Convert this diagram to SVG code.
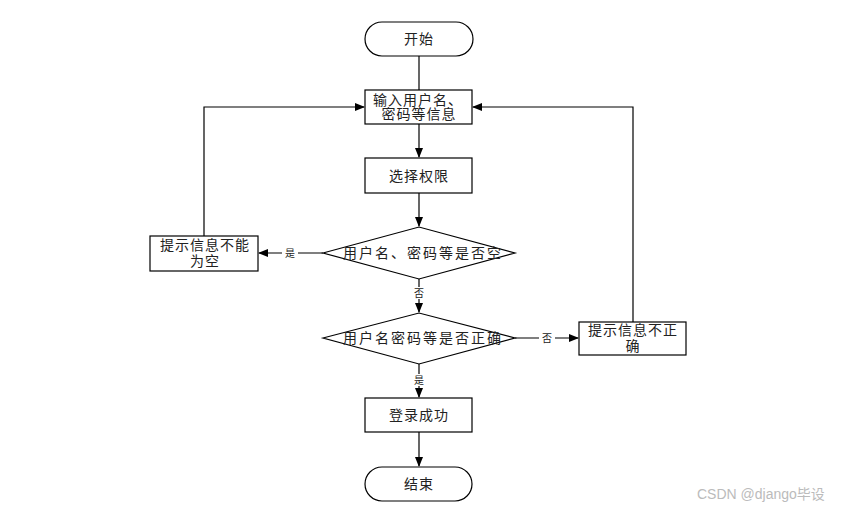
<svg xmlns="http://www.w3.org/2000/svg" width="841" height="510" viewBox="0 0 841 510">
<style>
.s{fill:#fff;stroke:#000;stroke-width:1.2}
.t{font-family:"Liberation Serif","Noto Sans CJK SC",serif;font-size:14px;letter-spacing:1px;fill:#222;text-anchor:middle}
.d{letter-spacing:2px}
.l{font-family:"Liberation Serif","Noto Sans CJK SC",serif;font-size:10px;fill:#222;text-anchor:middle}
.c{fill:none;stroke:#000;stroke-width:1.2}
.w{font-family:"Liberation Sans","Noto Sans CJK SC",sans-serif;font-size:14px;fill:#bbb}
</style>
<defs>
<marker id="a" markerWidth="10" markerHeight="8" refX="9" refY="4" orient="auto" markerUnits="userSpaceOnUse">
<path d="M0,0 L10,4 L0,8 Z" fill="#000"/>
</marker>
</defs>
<rect width="841" height="510" fill="#fff"/>
<g id="connectors">
<line class="c" x1="419" y1="56" x2="419" y2="90"/>
<line class="c" x1="419" y1="124" x2="419" y2="157" marker-end="url(#a)"/>
<line class="c" x1="419" y1="193" x2="419" y2="226" marker-end="url(#a)"/>
<line class="c" x1="323" y1="253" x2="259" y2="253" marker-end="url(#a)"/>
<path class="c" d="M204,236 V107 H364" marker-end="url(#a)"/>
<line class="c" x1="419" y1="279" x2="419" y2="312" marker-end="url(#a)"/>
<line class="c" x1="515" y1="338" x2="578" y2="338" marker-end="url(#a)"/>
<path class="c" d="M633,322 V107 H473" marker-end="url(#a)"/>
<line class="c" x1="419" y1="364" x2="419" y2="397" marker-end="url(#a)"/>
<line class="c" x1="419" y1="432" x2="419" y2="466" marker-end="url(#a)"/>
<rect x="282" y="247" width="16" height="12" fill="#fff"/>
<text class="l" x="290" y="257">是</text>
<rect x="411" y="287" width="16" height="12" fill="#fff"/>
<text class="l" x="419" y="297">否</text>
<rect x="539" y="332" width="16" height="12" fill="#fff"/>
<text class="l" x="547" y="342">否</text>
<rect x="411" y="374" width="16" height="12" fill="#fff"/>
<text class="l" x="419" y="384">是</text>
</g>
<g id="start">
<rect class="s" x="365" y="22" width="108" height="34" rx="17"/>
<text class="t" x="419" y="44">开始</text>
</g>
<g id="input">
<rect class="s" x="365" y="90" width="107" height="34"/>
<text class="t" x="418" y="105">输入用户名、</text>
<text class="t" x="419" y="119">密码等信息</text>
</g>
<g id="role">
<rect class="s" x="365" y="158" width="107" height="35"/>
<text class="t" x="419" y="181">选择权限</text>
</g>
<g id="empty-check">
<path class="s" d="M323,253 L419,227 L515,253 L419,279 Z"/>
<text class="t d" x="423" y="258">用户名、密码等是否空</text>
</g>
<g id="empty-tip">
<rect class="s" x="150" y="236" width="108" height="35"/>
<text class="t" x="205" y="250">提示信息不能</text>
<text class="t" x="205" y="266">为空</text>
</g>
<g id="correct-check">
<path class="s" d="M323,338 L419,313 L515,338 L419,364 Z"/>
<text class="t d" x="423" y="343">用户名密码等是否正确</text>
</g>
<g id="wrong-tip">
<rect class="s" x="579" y="322" width="107" height="33"/>
<text class="t" x="633" y="335">提示信息不正</text>
<text class="t" x="633" y="351">确</text>
</g>
<g id="success">
<rect class="s" x="365" y="398" width="107" height="34"/>
<text class="t" x="419" y="420">登录成功</text>
</g>
<g id="end">
<rect class="s" x="365" y="467" width="107" height="34" rx="17"/>
<text class="t" x="419" y="489">结束</text>
</g>
<text class="w" x="697" y="499">CSDN @django毕设</text>
</svg>
